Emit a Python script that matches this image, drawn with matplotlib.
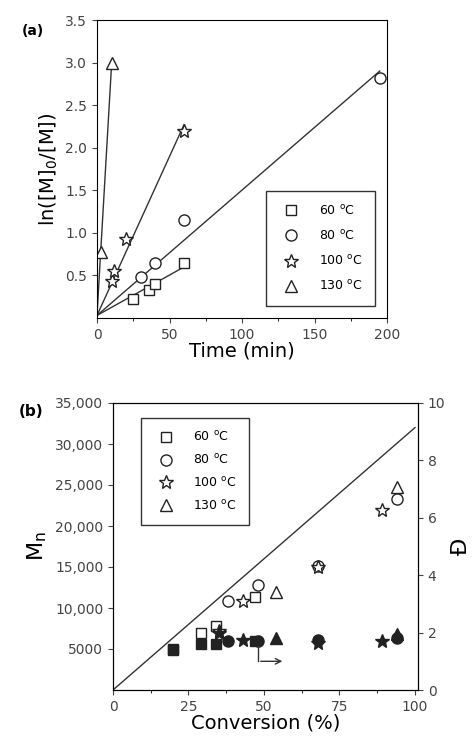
import matplotlib.pyplot as plt
import numpy as np

# panel (a) kinetics
t60 = [25, 36, 40, 60];  k60 = [0.22, 0.33, 0.40, 0.65]
t80 = [30, 40, 60, 195]; k80 = [0.48, 0.65, 1.15, 2.82]
t100 = [10, 12, 20, 60]; k100 = [0.43, 0.55, 0.93, 2.2]
t130 = [3, 10];          k130 = [0.78, 3.0]

# panel (b) Mn and dispersity vs conversion
c60 = [20, 29, 34, 47];  mn60 = [5000, 7000, 7800, 11300]; d60 = [1.38, 1.6, 1.6, 1.7]
c80 = [38, 48, 68, 94];  mn80 = [10800, 12800, 15100, 23300]; d80 = [1.7, 1.7, 1.75, 1.8]
c100 = [35, 43, 68, 89]; mn100 = [7200, 10800, 15000, 22000]; d100 = [2.0, 1.75, 1.65, 1.7]
c130 = [54, 94];         mn130 = [12000, 24800]; d130 = [1.8, 1.95]
theo_conv = [0, 100]
theo_mn = [0, 32000]

labels = ['60 $^{\\mathrm{o}}$C', '80 $^{\\mathrm{o}}$C', '100 $^{\\mathrm{o}}$C', '130 $^{\\mathrm{o}}$C']
markers = ['s', 'o', '*', '^']
sizes = [7, 8, 10, 8]

fig = plt.figure(figsize=(4.74, 7.51), dpi=100)
ax1 = fig.add_axes([97/474, 1-318/751, 290/474, 298/751])
kin = [(t60, k60), (t80, k80), (t100, k100), (t130, k130)]
for (t, k), m, s, lab in zip(kin, markers, sizes, labels):
    t = np.array(t); k = np.array(k)
    slope = np.sum(t * (k - 0.03)) / np.sum(t * t)
    tt = np.array([0, t.max()])
    ax1.plot(tt, 0.03 + slope * tt, color='#333333', lw=1)
    ax1.plot(t, k, m, ms=s, mfc='white', mec='#222222', mew=1, ls='none', label=lab)
ax1.set_xlim(0, 200); ax1.set_ylim(0, 3.5)
ax1.set_xticks([0, 50, 100, 150, 200])
ax1.set_xticks([25, 75, 125, 175], minor=True)
ax1.set_yticks([0.5, 1.0, 1.5, 2.0, 2.5, 3.0, 3.5])
ax1.tick_params(labelsize=10, colors='#444444')
ax1.set_xlabel('Time (min)', fontsize=14, labelpad=0)
ax1.set_ylabel('ln([M]$_0$/[M])', fontsize=14)
ax1.legend(loc='lower right', fontsize=9, fancybox=False, edgecolor='black',
           borderpad=1.0, labelspacing=0.9, handletextpad=1.2, bbox_to_anchor=(0.98, 0.02))
ax1.text(-0.26, 0.95, '(a)', transform=ax1.transAxes, fontsize=10, fontweight='bold')

ax2 = fig.add_axes([113/474, 1-690/751, 305/474, 287/751])
ax2.plot(theo_conv, theo_mn, color='#333333', lw=1)
ax3 = ax2.twinx()
data = [(c60, mn60, d60), (c80, mn80, d80), (c100, mn100, d100), (c130, mn130, d130)]
for (c, mn, d), m, s, lab in zip(data, markers, sizes, labels):
    ax2.plot(c, mn, m, ms=s, mfc='white', mec='#222222', mew=1, ls='none', label=lab)
    ax3.plot(c, d, m, ms=s, color='#222222', ls='none')
ax2.set_xlim(0, 101); ax2.set_ylim(0, 35000)
ax3.set_ylim(0, 10)
ax2.set_xticks([0, 25, 50, 75, 100])
ax2.set_xticks([12.5, 37.5, 62.5, 87.5], minor=True)
ax2.set_yticks([5000, 10000, 15000, 20000, 25000, 30000, 35000])
ax2.set_yticklabels(['5000', '10,000', '15,000', '20,000', '25,000', '30,000', '35,000'])
ax3.set_yticks([0, 2, 4, 6, 8, 10])
for a in (ax2, ax3):
    a.tick_params(labelsize=10, colors='#444444')
ax2.set_xlabel('Conversion (%)', fontsize=14, labelpad=0)
ax2.set_ylabel('M$_\\mathrm{n}$', fontsize=16)
ax3.set_ylabel('Đ', fontsize=16)
# arrow pointing to the right axis
ax3.plot([48, 48], [1.55, 1.0], color='#333333', lw=1)
ax3.annotate('', xy=(57, 1.0), xytext=(48, 1.0),
             arrowprops=dict(arrowstyle='->', color='#333333', lw=1))
ax2.legend(loc='upper left', fontsize=9, fancybox=False, edgecolor='black',
           borderpad=1.0, labelspacing=0.7, handletextpad=1.2, bbox_to_anchor=(0.07, 0.97))
ax2.text(-0.31, 0.955, '(b)', transform=ax2.transAxes, fontsize=11, fontweight='bold')

fig.savefig('out.png', dpi=100)
